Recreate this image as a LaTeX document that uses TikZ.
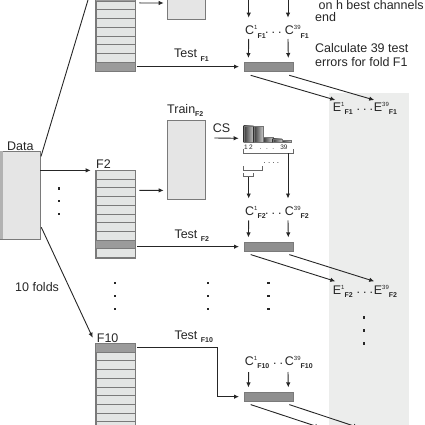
\documentclass[tikz,border=0pt]{standalone}
\usepackage{fontspec}
\setmainfont{Liberation Sans}
\usetikzlibrary{arrows.meta,calc}
\definecolor{ink}{HTML}{262626}
\definecolor{lightrow}{HTML}{E3E5E4}
\definecolor{darkrow}{HTML}{9B9B9B}
\definecolor{rowline}{HTML}{7A7A7A}
\definecolor{boxfill}{HTML}{E5E5E5}
\definecolor{barfill}{HTML}{8F8F8F}
\definecolor{panelgrey}{HTML}{ECEDEC}
\newcommand{\sups}[1]{\raisebox{5pt}{\fontsize{6}{6}\selectfont #1}}
\newcommand{\subs}[1]{\raisebox{-3.2pt}{\fontsize{7}{7}\selectfont\bfseries #1}}
\newcommand{\mydots}{\raisebox{1pt}{.\hspace{3pt}.\hspace{3pt}.}}
\begin{document}
\begin{tikzpicture}[x=1pt,y=-1pt, font=\fontsize{12.5}{14}\selectfont, text=ink,
 arr/.style={draw=ink, line width=0.9pt, -{Latex[length=5pt,width=4.5pt]}},
 ln/.style={draw=ink, line width=0.9pt},
 brk/.style={draw=ink!70, line width=0.6pt},
 stack/.style={draw=rowline, fill=lightrow, line width=0.7pt, minimum width=39pt, minimum height=87pt, inner sep=0pt},
 trainbox/.style={draw=rowline, fill=boxfill, line width=0.6pt, inner sep=0pt, minimum width=38pt},
 testbar/.style={draw=rowline, fill=barfill, line width=0.6pt, inner sep=0pt, minimum width=49.4pt, minimum height=9.3pt},
 csbar/.style={inner sep=0pt, anchor=south west, left color=black!78, right color=black!22, draw=black!55, line width=0.3pt},
 txt/.style={inner sep=0pt, anchor=base west},
 dotm/.style={fill=ink, minimum size=2.6pt, inner sep=0pt}
]
\useasboundingbox (0,0) rectangle (425,425);
\clip (0,0) rectangle (425,425);

% grey panel
\node[fill=panelgrey, minimum width=80pt, minimum height=333pt, inner sep=0pt, anchor=north west] (panel) at (328.7,92.7) {};

% data box
\node[draw=rowline, fill=boxfill, line width=0.6pt, minimum width=40pt, minimum height=87.3pt, inner sep=0pt] (data) at (20,195.35) {};
\fill[black!30] (data.north west) rectangle ($(data.south west)+(3,0)$);
\node[txt] (datalbl) at (7,150) {Data};

% fold stacks
\node[stack] (f1) at (115.5,27.5) {};
\fill[darkrow] ($(f1.north west)+(0,8.7)$) rectangle ++(39,8.7);
\fill[darkrow] ($(f1.north west)+(0,78.3)$) rectangle ++(39,8.7);
\foreach \i in {1,...,9} \draw[rowline, line width=0.6pt] ($(f1.north west)+(0,8.7*\i)$) -- ++(39,0);
\draw[rowline, line width=0.7pt] (f1.north west) rectangle (f1.south east);

\node[stack] (f2) at (115.5,214.2) {};
\fill[darkrow] ($(f2.north west)+(0,69.6)$) rectangle ++(39,8.7);
\foreach \i in {1,...,9} \draw[rowline, line width=0.6pt] ($(f2.north west)+(0,8.7*\i)$) -- ++(39,0);
\draw[rowline, line width=0.7pt] (f2.north west) rectangle (f2.south east);
\node[txt] (f2lbl) at (96,168.7) {F2};

\node[stack] (f10) at (115.5,387.2) {};
\fill[darkrow] (f10.north west) rectangle ++(39,8.7);
\foreach \i in {1,...,9} \draw[rowline, line width=0.6pt] ($(f10.north west)+(0,8.7*\i)$) -- ++(39,0);
\draw[rowline, line width=0.7pt] (f10.north west) rectangle (f10.south east);
\node[txt] (f10lbl) at (96.7,342) {F10};

% train boxes
\node[trainbox, minimum height=79pt] (trainA) at (186,-20.5) {};
\node[trainbox, minimum height=79.3pt] (trainB) at (186,159.65) {};
\node[txt] (trainlbl) at (167,113.3) {Train\subs{F2}};

% test bars
\node[testbar] (barA) at (269,66.65) {};
\node[testbar] (barB) at (269,246.65) {};
\node[testbar] (barC) at (269,396.65) {};

% data connectors
\coordinate (f1in) at (93.4,-18);
\draw[ln] ($(data.north east)+(0.7,5)$) -- (f1in);
\draw[arr] (data.east |- f2.north west) -- ([xshift=-5pt]f2.north west);
\draw[arr] ($(data.south east)+(1,-12)$) -- ([xshift=-4pt]f10lbl.west);
\node[txt] (folds) at (15,291.3) {10 folds};

% fold -> train
\draw[arr] ($(f1.north east)+(4,19.3)$) -- ($(trainA.north west)+(-3,63.3)$);
\draw[arr] ($(f2.north east)+(4,20)$) -- ($(trainB.north west)+(-3,70.7)$);

% test lines
\draw[arr] ($(f1.east |- barA.west)+(2,0)$) -- ($(barA.west)+(-5,0)$);
\node[txt] (testA) at (174,58) {Test \subs{F1}};
\draw[arr] ($(f2.east |- barB.west)+(2,0)$) -- ($(barB.west)+(-5,0)$);
\node[txt] (testB) at (174.3,238.7) {Test \subs{F2}};
\draw[arr] ($(f10.north east)+(2,4)$) -| ($(barC.west)+(-26.3,0)$) -- ($(barC.west)+(-5,0)$);
\node[txt] (testC) at (174.3,339.7) {Test \subs{F10}};

% top section text
\node[txt] (hbest) at (318.5,9.5) {on h best channels};
\node[txt] (endw) at (315,21.3) {end};
\node[txt] (calc1) at (315,53) {Calculate 39 test};
\node[txt] (calc2) at (315,66.7) {errors for fold F1};

% C labels F1
\node[txt] (cA1) at (245,35) {C\sups{1}\subs{F1}};
\node[txt] (cAd) at (265,35) {\mydots};
\node[txt] (cA39) at (284.7,35) {C\sups{39}\subs{F1}};
\coordinate (topA1) at (248.7,-10);
\coordinate (topA39) at (288,-10);
\draw[arr] (topA1) -- ($(cA1.base west)+(3.7,-17.3)$);
\draw[arr] (topA39) -- ($(cA39.base west)+(3.3,-17.3)$);
\draw[arr] ($(cA1.base west)+(3.7,4)$) -- ($(barA.north west)+(4.4,-3.7)$);
\draw[arr] ($(cA39.base west)+(3.3,4)$) -- ($(barA.north east)+(-5.7,-3.7)$);

% E labels F1
\node[txt] (eA1) at (332.7,111.7) {E\sups{1}\subs{F1}};
\node[txt] (eAd) at (356.5,111.7) {\mydots};
\node[txt] (eA39) at (373.7,111.7) {E\sups{39}\subs{F1}};
\draw[arr] ($(barA.south west)+(6.7,3.7)$) -- ($(eA1.base west)+(2.6,-11.7)$);
\draw[arr] ($(barA.south east)+(-4.7,3.7)$) -- ($(eA39.base west)+(0.5,-11.7)$);

% CS section
\node[txt] (cslbl) at (212.7,132.3) {CS};
\node[csbar, minimum width=10pt, minimum height=16.7pt] (b1) at (243.5,142.7) {};
\node[csbar, minimum width=9.5pt, minimum height=16pt] (b2) at (253.5,142.7) {};
\node[csbar, minimum width=9.5pt, minimum height=5.4pt] (b3) at (263,142.7) {};
\node[csbar, minimum width=9.5pt, minimum height=3.6pt] (b4) at (272.5,142.7) {};
\node[csbar, minimum width=9pt, minimum height=2.2pt] (b5) at (282,142.7) {};
\draw[arr] ($(trainB.north east)+(9,18.3)$) -- ($(b1.south west)+(-4.8,-4.4)$);
\node[txt, font=\fontsize{6.5}{7}\selectfont] (nums) at (244,149.6) {1\hspace{1.4pt}2\hspace{7pt}.\hspace{4.5pt}.\hspace{4.5pt}.\hspace{6pt}39};
\draw[brk] (243.7,149) -- (243.7,153.3) -- (293,153.3) -- (293,149);
\node[txt, font=\fontsize{8}{8}\selectfont] (bdots) at (263.5,163.5) {.\hspace{2.2pt}.\hspace{2.2pt}.\hspace{2.2pt}.};
\draw[brk] (243.7,166) -- (243.7,170) -- (262,170) -- (262,166);
\draw[brk] (243.7,173) -- (243.7,176.7) -- (253.7,176.7) -- (253.7,173);

% C labels F2
\node[txt] (cB1) at (245,215) {C\sups{1}\subs{F2}};
\node[txt] (cBd) at (265,215) {\mydots};
\node[txt] (cB39) at (284.7,215) {C\sups{39}\subs{F2}};
\draw[arr] ($(cB1.base west)+(3.7,-38.3)$) -- ($(cB1.base west)+(3.7,-16.5)$);
\draw[arr] ($(cB39.base west)+(3.3,-61.7)$) -- ($(cB39.base west)+(3.3,-16.5)$);
\draw[arr] ($(cB1.base west)+(3.7,5.3)$) -- ($(barB.north west)+(4.4,-4.3)$);
\draw[arr] ($(cB39.base west)+(3.3,5.3)$) -- ($(barB.north east)+(-5.7,-4.3)$);

% E labels F2
\node[txt] (eB1) at (332.7,294.3) {E\sups{1}\subs{F2}};
\node[txt] (eBd) at (356.5,294.3) {\mydots};
\node[txt] (eB39) at (373.7,294.3) {E\sups{39}\subs{F2}};
\draw[arr] ($(barB.south west)+(6.7,3)$) -- ($(eB1.base west)+(2.6,-13)$);
\draw[arr] ($(barB.south east)+(-4.7,3)$) -- ($(eB39.base west)+(0.5,-13)$);

% C labels F10
\node[txt] (cC1) at (244.7,365.3) {C\sups{1}\subs{F10}};
\node[txt] (cCd) at (273,365.3) {\raisebox{1pt}{.\hspace{3pt}.}};
\node[txt] (cC39) at (284.7,365.3) {C\sups{39}\subs{F10}};
\draw[arr] ($(cC1.base west)+(4,6.7)$) -- ($(barC.north west)+(4.4,-4.3)$);
\draw[arr] ($(cC39.base west)+(3.3,6.7)$) -- ($(barC.north east)+(-5.7,-4.3)$);
\coordinate (eC1) at (320,427.5);
\coordinate (eC39) at (358.5,427.5);
\draw[arr] ($(barC.south west)+(6.7,3)$) -- (eC1);
\draw[arr] ($(barC.south east)+(-4.7,3)$) -- (eC39);

% dots
\foreach \y [count=\k] in {188.3,201,214} \node[dotm] (dd\k) at (59,\y) {};
\foreach \y [count=\k] in {283,296,309} {
  \node[dotm] (da\k) at (115,\y) {};
  \node[dotm] (db\k) at (208,\y) {};
  \node[dotm] (dc\k) at (268.7,\y) {};
}
\foreach \y [count=\k] in {317.7,330.7,343.7} \node[dotm] (de\k) at (364,\y) {};
\end{tikzpicture}
\end{document}
